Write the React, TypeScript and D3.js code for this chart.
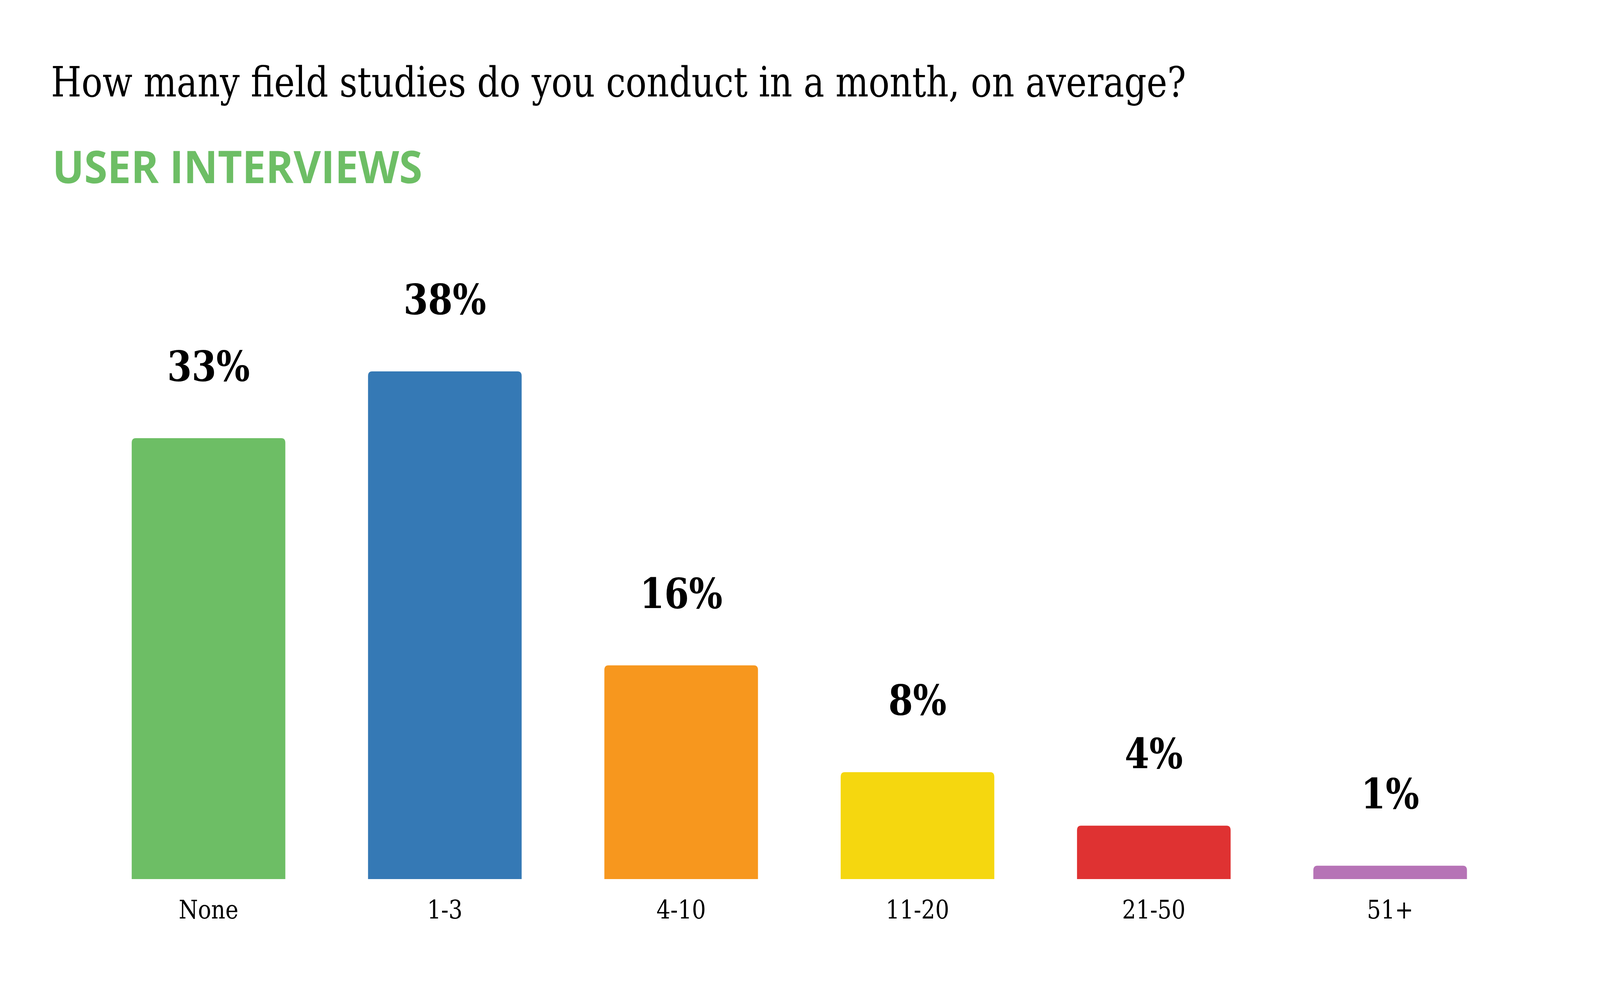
import React, { useEffect, useRef } from 'react';
import * as d3 from 'd3';

// answers to "How many field studies do you conduct in a month?"
const categories = ['None', '1-3', '4-10', '11-20', '21-50', '51+'];
const percentages = [33, 38, 16, 8, 4, 1];
const barColors = ['#6dbe65', '#3579b5', '#f7971e', '#f5d70f', '#df3232', '#b673b6'];

const titleText = 'How many field studies do you conduct in a month, on average?';
const subtitleText = 'USER INTERVIEWS';

// drawing frame; the svg is stretched over the whole viewport
const width = 4800;
const height = 2512;

const App: React.FC = () => {
  const svgRef = useRef<SVGSVGElement | null>(null);

  useEffect(() => {
    if (!svgRef.current) return;
    const svg = d3.select(svgRef.current);
    svg.selectAll('*').remove();

    svg.append('rect')
      .attr('width', width)
      .attr('height', height)
      .attr('fill', '#ffffff');

    // header
    svg.append('text')
      .attr('x', 153)
      .attr('y', 247)
      .attr('font-family', '"DejaVu Serif", "Liberation Serif", serif')
      .attr('font-size', 106)
      .attr('textLength', 3405)
      .attr('lengthAdjust', 'spacingAndGlyphs')
      .attr('fill', '#000')
      .text(titleText);

    svg.append('text')
      .attr('x', 157)
      .attr('y', 469)
      .attr('font-family', '"Open Sans", Inter, sans-serif')
      .attr('font-weight', 700)
      .attr('font-size', 115)
      .attr('textLength', 1110)
      .attr('lengthAdjust', 'spacingAndGlyphs')
      .attr('fill', '#6dbe65')
      .text(subtitleText);

    const baseline = 2251;

    const x = d3.scaleBand<string>()
      .domain(categories)
      .range([147, 4649])
      .paddingInner(0.35)
      .paddingOuter(0.35);

    const y = d3.scaleLinear()
      .domain([0, 38])
      .range([baseline, baseline - 1300]);

    const r = 12;
    const topRounded = (x0: number, y0: number, w: number, h: number) => {
      const rr = Math.min(r, h / 2, w / 2);
      const p = d3.path();
      p.moveTo(x0, y0 + h);
      p.lineTo(x0, y0 + rr);
      p.quadraticCurveTo(x0, y0, x0 + rr, y0);
      p.lineTo(x0 + w - rr, y0);
      p.quadraticCurveTo(x0 + w, y0, x0 + w, y0 + rr);
      p.lineTo(x0 + w, y0 + h);
      p.closePath();
      return p.toString();
    };

    const data = categories.map((c, i) => ({ cat: c, value: percentages[i], color: barColors[i] }));

    const g = svg.append('g');

    g.selectAll('path.bar')
      .data(data)
      .enter().append('path')
        .attr('class', 'bar')
        .attr('d', d => topRounded(x(d.cat) || 0, y(d.value), x.bandwidth(), baseline - y(d.value)))
        .attr('fill', d => d.color);

    // value labels above bars
    g.selectAll('text.value')
      .data(data)
      .enter().append('text')
        .attr('class', 'value')
        .attr('x', d => (x(d.cat) || 0) + x.bandwidth() / 2)
        .attr('y', d => y(d.value) - 147)
        .attr('text-anchor', 'middle')
        .attr('font-family', '"DejaVu Serif", "Liberation Serif", serif')
        .attr('font-weight', 700)
        .attr('font-size', 106)
        .attr('fill', '#000')
        .text(d => `${d.value}%`);

    // category axis (no line, no ticks)
    const axis = g.append('g')
      .attr('transform', `translate(0,${baseline})`)
      .call(d3.axisBottom(x).tickSize(0).tickPadding(101));
    axis.select('.domain').remove();
    axis.selectAll('text')
      .attr('dy', 0)
      .attr('font-family', '"DejaVu Serif", "Liberation Serif", serif')
      .attr('font-size', 66)
      .attr('fill', '#000');
  }, []);

  return (
    <svg
      ref={svgRef}
      viewBox={`0 0 ${width} ${height}`}
      preserveAspectRatio="none"
      style={{ position: 'fixed', left: 0, top: 0, width: '100vw', height: '100vh', display: 'block' }}
    />
  );
};

export default App;
